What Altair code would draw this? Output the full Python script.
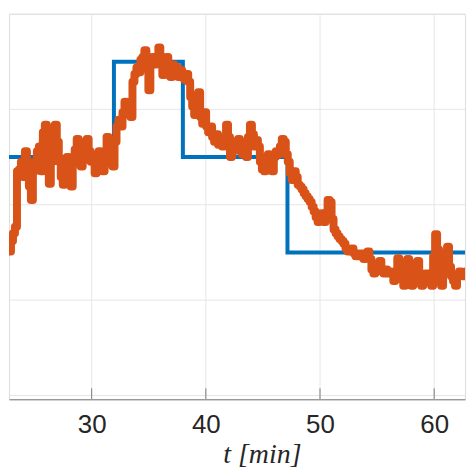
import altair as alt
import pandas as pd

# Reference (set-point) step signal: change times [min] and levels
ref_t = [21.5, 22.56, 31.95, 37.99, 47.15, 64.0]
ref_v = [1.2, 2.5, 3.5, 2.5, 1.5, 1.5]

meas_t0 = 22.76
meas_dt = 0.1744
meas_v = [
    1.51, 1.62, 1.70, 1.77, 2.35, 2.37, 2.45, 2.29, 2.56, 2.45,
    2.19, 2.05, 2.35, 2.45, 2.56, 2.61, 2.35, 2.76, 2.84, 2.40,
    2.22, 2.45, 2.61, 2.84, 2.66, 2.45, 2.29, 2.21, 2.40, 2.50,
    2.35, 2.19, 2.45, 2.58, 2.69, 2.56, 2.40, 2.47, 2.56, 2.69,
    2.56, 2.45, 2.50, 2.33, 2.45, 2.56, 2.40, 2.35, 2.56, 2.71,
    2.66, 2.45, 2.40, 2.66, 2.82, 2.89, 2.82, 2.97, 3.08, 2.95,
    3.03, 2.92, 3.29, 3.37, 3.44, 3.39, 3.52, 3.55, 3.62, 3.52,
    3.20, 3.49, 3.55, 3.47, 3.55, 3.65, 3.55, 3.36, 3.49, 3.55,
    3.44, 3.34, 3.47, 3.39, 3.44, 3.34, 3.41, 3.37, 3.31, 3.37,
    3.29, 3.13, 3.03, 2.94, 3.13, 3.18, 2.92, 2.85, 2.97, 2.82,
    2.76, 2.82, 2.71, 2.66, 2.74, 2.63, 2.66, 2.61, 2.66, 2.84,
    2.71, 2.50, 2.56, 2.58, 2.66, 2.69, 2.56, 2.53, 2.56, 2.50,
    2.71, 2.84, 2.74, 2.61, 2.68, 2.61, 2.45, 2.37, 2.35, 2.50,
    2.53, 2.40, 2.35, 2.50, 2.56, 2.53, 2.61, 2.69, 2.66, 2.53,
    2.45, 2.33, 2.26, 2.35, 2.29, 2.21, 2.19, 2.16, 2.12, 2.09,
    2.06, 2.03, 1.98, 1.93, 1.87, 1.82, 1.88, 1.91, 1.82, 1.88,
    2.05, 2.03, 1.85, 1.74, 1.70, 1.67, 1.64, 1.62, 1.59, 1.54,
    1.51, 1.53, 1.54, 1.49, 1.46, 1.49, 1.46, 1.49, 1.43, 1.46,
    1.51, 1.43, 1.32, 1.28, 1.30, 1.39, 1.41, 1.32, 1.28, 1.32,
    1.28, 1.30, 1.28, 1.20, 1.28, 1.44, 1.30, 1.22, 1.15, 1.30,
    1.43, 1.35, 1.15, 1.25, 1.39, 1.41, 1.18, 1.15, 1.25, 1.28,
    1.28, 1.20, 1.15, 1.46, 1.69, 1.53, 1.35, 1.15, 1.28, 1.49,
    1.56, 1.35, 1.25, 1.20, 1.15, 1.25, 1.30, 1.28, 1.25, 1.30,
]
meas_t = [round(meas_t0 + i * meas_dt, 3) for i in range(len(meas_v))]

tick_t = [30, 40, 50, 60]
grid_v = [0, 1, 2, 3, 4]

meas_df = pd.DataFrame({"t": meas_t, "v": meas_v})
ref_df = pd.DataFrame({"t": ref_t, "v": ref_v})
tick_df = pd.DataFrame({"t": tick_t})
gridv_df = pd.DataFrame({"v": grid_v})

W, H = 458, 387
GRID = "#e6e6e6"
AX = "#7a7a7a"
xs = alt.Scale(domain=[22.76, 62.70], nice=False, zero=False)
ys = alt.Scale(domain=[-0.04, 4.0], nice=False, zero=False)

xaxis = alt.Axis(
    values=tick_t, title="t [min]", grid=False,
    domain=True, domainColor=AX, domainWidth=1, ticks=False, tickSize=0,
    labelFont="Liberation Sans", labelFontSize=26, labelColor="#262626",
    labelPadding=33, labelBaseline="alphabetic",
    titleFont="Liberation Serif", titleFontStyle="italic", titleFontSize=28,
    titleFontWeight="normal", titleColor="#262626",
    titleX=254, titleY=63, titleBaseline="alphabetic", titleAlign="center",
)

X = alt.X("t:Q", scale=xs, axis=xaxis)
Y = alt.Y("v:Q", scale=ys, axis=None)

grid_x = alt.Chart(tick_df).mark_rule(color=GRID, strokeWidth=1).encode(
    x=X, y=alt.value(0), y2=alt.value(H)
)
grid_y = alt.Chart(gridv_df).mark_rule(color=GRID, strokeWidth=1).encode(
    y=Y, x=alt.value(0), x2=alt.value(W)
)
tick_marks = alt.Chart(tick_df).mark_rule(color=AX, strokeWidth=1).encode(
    x=X, y=alt.value(H), y2=alt.value(H - 11)
)
ref_line = alt.Chart(ref_df).mark_line(
    interpolate="step-after", color="#0072BD", strokeWidth=4, clip=True
).encode(x=X, y=Y)
meas_line = alt.Chart(meas_df).mark_line(
    interpolate="step-after", color="#D95319", strokeWidth=8,
    strokeJoin="round", strokeCap="round", clip=True
).encode(x=X, y=Y)

chart = (
    alt.layer(grid_x, grid_y, tick_marks, ref_line, meas_line)
    .properties(width=W, height=H, padding={"left": 0, "top": 4, "right": 0, "bottom": 0})
    .configure_view(stroke="transparent", strokeWidth=0)
    .configure(background="white")
)

chart.save("out.html", embed_options={"renderer": "svg", "actions": False})
